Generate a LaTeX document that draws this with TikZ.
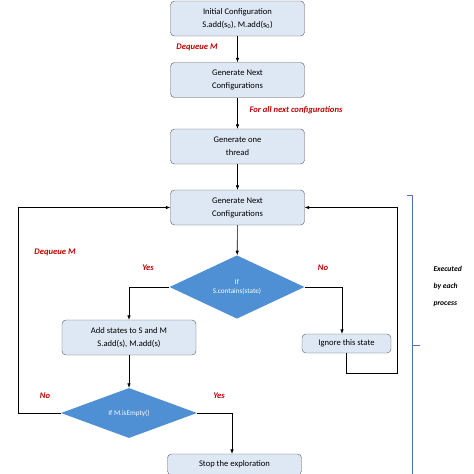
\documentclass[tikz,border=0pt]{standalone}
\usepackage{fontspec}
\setmainfont{Carlito}
\usetikzlibrary{shapes.geometric,arrows.meta}
\definecolor{boxfill}{HTML}{DEE8F4}
\definecolor{boxline}{HTML}{595959}
\definecolor{decfill}{HTML}{4F8FD3}
\definecolor{lblred}{HTML}{C00000}
\definecolor{brace}{HTML}{5471B0}
\begin{document}
\begin{tikzpicture}[x=1pt,y=-1pt,
  box/.style={draw=boxline, fill=boxfill, rounded corners=4pt, minimum width=134pt, minimum height=35pt, inner sep=1pt, align=center, font=\fontsize{8.6}{13}\selectfont},
  decision/.style={diamond, fill=decfill, draw=none, text=white, inner sep=0pt, align=center, font=\fontsize{7.2}{9}\selectfont},
  lbl/.style={text=lblred, font=\fontsize{8.6}{10}\selectfont\bfseries\itshape},
  flow/.style={draw=black, line width=0.6pt, -{Latex[length=4.5pt,width=3.5pt]}}]
%%%%%%%%%%%%%%%%%%%%%%%%%%%%%%%%%%%%%%%%%%% FRAME
\useasboundingbox (0,0) rectangle (474,474);

%%%%%%%%%%%%%%%%%%%%%%%%%%%%%%%%%%%%%%%%%%% boxes
\node[box](init) at (237.5,18.5){Initial Configuration\\S.add(s\textsubscript{0}), M.add(s\textsubscript{0})};
\node[box](gennext) at (237.5,80){Generate Next\\Configurations};
\node[box](thread) at (237.5,146.5){Generate one\\thread};
\node[box](genloop) at (237.5,207.5){Generate Next\\Configurations};
\node[box](addst) at (129,337.5){Add states to S and M\\S.add(s), M.add(s)};
\node[box, minimum width=89pt, minimum height=19pt](ignore) at (346.5,343.5){Ignore this state};
\node[box, minimum height=21pt](stop) at (234.5,464.5){Stop the exploration};

%%%%% decisions
\node[decision, minimum width=135pt, minimum height=59pt](contains) at (237,287){If\\S.contains(state)};
\node[decision, minimum width=136pt, minimum height=50pt](empty) at (129,413){If M.isEmpty()};

%%%%% labels
\node[lbl](deq1) at (197,47){Dequeue M};
\node[lbl](forall) at (296,110){For all next configurations};
\node[lbl](deq2) at (55,252){Dequeue M};
\node[lbl](yes1) at (148,268){Yes};
\node[lbl](no1) at (323,268){No};
\node[lbl](no2) at (45,396){No};
\node[lbl](yes2) at (219,396){Yes};

%%%%% connectors
\coordinate (lloop) at (18,413);
\coordinate (rloop) at (397,373);
\draw[flow] (init) -- (gennext);
\draw[flow] (gennext) -- (thread);
\draw[flow] (thread) -- (genloop);
\draw[flow] (genloop) -- (contains);
\draw[flow] (contains.west) -| (addst.north);
\draw[flow] (contains.east) -| ([xshift=-4.5pt]ignore.north);
\draw[flow] (addst) -- (empty);
\draw[flow] (empty.east) -| ([xshift=-2.5pt]stop.north);
\draw[flow] (empty.west) -- (lloop) |- (genloop.west);
\draw[flow] (ignore.south) |- (rloop) |- (genloop.east);

%%%%% process bracket
\draw[brace, line width=0.8pt] (407,195) -- (412,195) -- (412,476);
\draw[brace, line width=0.8pt] (412,345) -- (420,345);
\node[anchor=west, align=left, font=\fontsize{7.6}{8}\selectfont\bfseries\itshape](exec) at (430,286){Executed\\[9pt]by each\\[9pt]process};
\end{tikzpicture}
\end{document}
